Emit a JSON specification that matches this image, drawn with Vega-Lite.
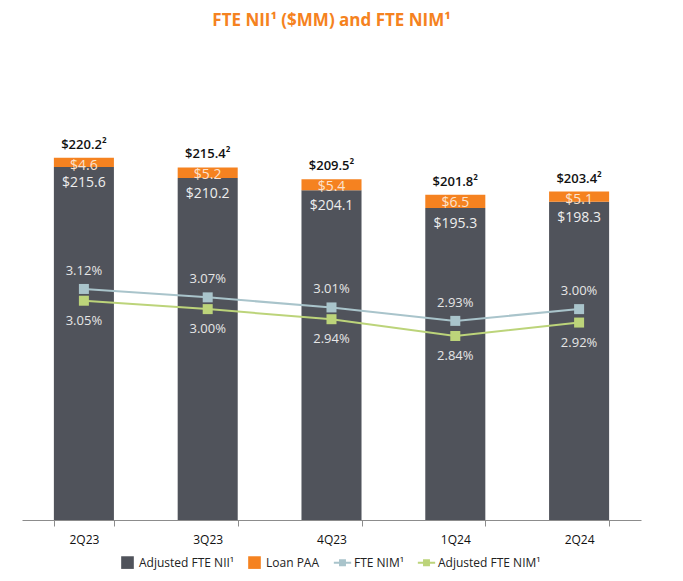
{
  "$schema": "https://vega.github.io/schema/vega-lite/v6.json",
  "width": 619,
  "height": 410,
  "autosize": {"type": "none"},
  "padding": {"left": 22, "right": 42, "top": 110, "bottom": 61},
  "background": "white",
  "title": {"text": "FTE NII¹ ($MM) and FTE NIM¹", "color": "#f58220", "fontSize": 17, "font": "Open Sans", "fontWeight": "bold", "anchor": "middle", "offset": 80},
  "config": {"font": "Open Sans", "view": {"stroke": null}},
  "datasets": {
    "bars": [
      {"q": "2Q23", "series": "Adjusted FTE NII¹", "value": 215.6},
      {"q": "2Q23", "series": "Loan PAA", "value": 4.6},
      {"q": "3Q23", "series": "Adjusted FTE NII¹", "value": 210.2},
      {"q": "3Q23", "series": "Loan PAA", "value": 5.2},
      {"q": "4Q23", "series": "Adjusted FTE NII¹", "value": 204.1},
      {"q": "4Q23", "series": "Loan PAA", "value": 5.4},
      {"q": "1Q24", "series": "Adjusted FTE NII¹", "value": 195.3},
      {"q": "1Q24", "series": "Loan PAA", "value": 6.5},
      {"q": "2Q24", "series": "Adjusted FTE NII¹", "value": 198.3},
      {"q": "2Q24", "series": "Loan PAA", "value": 5.1}
    ],
    "totals": [
      {"q": "2Q23", "total": 220.2},
      {"q": "3Q23", "total": 215.4},
      {"q": "4Q23", "total": 209.5},
      {"q": "1Q24", "total": 201.8},
      {"q": "2Q24", "total": 203.4}
    ],
    "nim": [
      {"q": "2Q23", "series": "FTE NIM¹", "rate": 0.0312},
      {"q": "2Q23", "series": "Adjusted FTE NIM¹", "rate": 0.0305},
      {"q": "3Q23", "series": "FTE NIM¹", "rate": 0.0307},
      {"q": "3Q23", "series": "Adjusted FTE NIM¹", "rate": 0.0300},
      {"q": "4Q23", "series": "FTE NIM¹", "rate": 0.0301},
      {"q": "4Q23", "series": "Adjusted FTE NIM¹", "rate": 0.0294},
      {"q": "1Q24", "series": "FTE NIM¹", "rate": 0.0293},
      {"q": "1Q24", "series": "Adjusted FTE NIM¹", "rate": 0.0284},
      {"q": "2Q24", "series": "FTE NIM¹", "rate": 0.0300},
      {"q": "2Q24", "series": "Adjusted FTE NIM¹", "rate": 0.0292}
    ]
  },
  "resolve": {"scale": {"y": "independent"}},
  "layer": [
    {
      "data": {"name": "bars"},
      "layer": [
        {
          "mark": {"type": "bar", "clip": true},
          "encoding": {
            "x": {
              "field": "q", "type": "nominal", "sort": ["2Q23", "3Q23", "4Q23", "1Q24", "2Q24"],
              "scale": {"paddingInner": 0.515, "paddingOuter": 0.2575},
              "axis": {"title": null, "labelAngle": 0, "domainColor": "#8c8c8c", "tickColor": "#8c8c8c", "tickBand": "extent", "tickSize": 6, "labelFontSize": 12, "labelColor": "#111111", "labelPadding": 8, "labelFont": "Open Sans", "zindex": 1}
            },
            "y": {"field": "value", "type": "quantitative", "stack": "zero", "scale": {"domain": [40, 244], "nice": false, "zero": false}, "axis": null},
            "color": {
              "field": "series", "type": "nominal",
              "scale": {"domain": ["Adjusted FTE NII¹", "Loan PAA", "FTE NIM¹", "Adjusted FTE NIM¹"], "range": ["#50535b", "#f58220", "#a9c4cb", "#bcd47a"]},
              "legend": {
                "orient": "none", "legendX": 99, "legendY": 446, "direction": "horizontal", "title": null,
                "labelFontSize": 12, "labelColor": "#222222", "labelFont": "Open Sans", "columnPadding": 13, "labelOffset": 5,
                "symbolType": "square", "symbolSize": 150,
                "encode": {
                  "symbols": {
                    "update": {
                      "shape": {"signal": "indexof(['FTE NIM¹', 'Adjusted FTE NIM¹'], datum.value) >= 0 ? 'M-1,-0.12H1V0.12H-1Z M-0.4,-0.4H0.4V0.4H-0.4Z' : 'square'"},
                      "size": {"signal": "indexof(['FTE NIM¹', 'Adjusted FTE NIM¹'], datum.value) >= 0 ? 300 : 160"},
                      "fill": {"scale": "color", "field": "value"},
                      "strokeWidth": {"value": 0},
                      "opacity": {"value": 1}
                    }
                  }
                }
              }
            },
            "order": {"field": "series", "sort": "ascending"}
          }
        },
        {
          "transform": [{"filter": "datum.series === 'Adjusted FTE NII¹'"}],
          "mark": {"type": "text", "baseline": "alphabetic", "dy": 20, "fontSize": 14, "color": "#eeeeee", "font": "Open Sans"},
          "encoding": {
            "x": {"field": "q", "type": "nominal", "sort": ["2Q23", "3Q23", "4Q23", "1Q24", "2Q24"]},
            "y": {"field": "value", "type": "quantitative", "axis": null},
            "text": {"field": "value", "type": "quantitative", "format": "$.1f"}
          }
        },
        {
          "mark": {"type": "text", "baseline": "alphabetic", "dy": 12, "fontSize": 14, "color": "#fbe3cf", "font": "Open Sans"},
          "encoding": {
            "x": {"field": "q", "type": "nominal", "sort": ["2Q23", "3Q23", "4Q23", "1Q24", "2Q24"]},
            "y": {"field": "value", "type": "quantitative", "stack": "zero", "axis": null},
            "detail": {"field": "series"},
            "order": {"field": "series", "sort": "ascending"},
            "text": {"condition": {"test": "datum.series === 'Loan PAA'", "field": "value", "type": "quantitative", "format": "$.1f"}, "value": ""}
          }
        },
        {
          "data": {"name": "totals"},
          "transform": [{"calculate": "'$' + format(datum.total, '.1f') + '²'", "as": "label"}],
          "mark": {"type": "text", "baseline": "alphabetic", "dy": -9, "fontSize": 13, "color": "#111111", "fontWeight": 600, "font": "Open Sans"},
          "encoding": {
            "x": {"field": "q", "type": "nominal", "sort": ["2Q23", "3Q23", "4Q23", "1Q24", "2Q24"]},
            "y": {"field": "total", "type": "quantitative", "axis": null},
            "text": {"field": "label", "type": "nominal"}
          }
        }
      ]
    },
    {
      "data": {"name": "nim"},
      "layer": [
        {
          "mark": {"type": "line", "strokeWidth": 2, "point": {"shape": "square", "size": 100, "filled": true, "opacity": 1}},
          "encoding": {
            "x": {"field": "q", "type": "nominal", "sort": ["2Q23", "3Q23", "4Q23", "1Q24", "2Q24"]},
            "y": {"field": "rate", "type": "quantitative", "scale": {"domain": [0.01745, 0.04185], "nice": false, "zero": false}, "axis": null},
            "color": {"field": "series", "type": "nominal"}
          }
        },
        {
          "transform": [{"filter": "datum.series === 'FTE NIM¹'"}],
          "mark": {"type": "text", "baseline": "middle", "dy": -18, "fontSize": 13, "color": "#e6e6e6", "font": "Open Sans"},
          "encoding": {
            "x": {"field": "q", "type": "nominal", "sort": ["2Q23", "3Q23", "4Q23", "1Q24", "2Q24"]},
            "y": {"field": "rate", "type": "quantitative", "axis": null},
            "text": {"field": "rate", "type": "quantitative", "format": ".2%"}
          }
        },
        {
          "transform": [{"filter": "datum.series === 'Adjusted FTE NIM¹'"}],
          "mark": {"type": "text", "baseline": "middle", "dy": 20, "fontSize": 13, "color": "#e6e6e6", "font": "Open Sans"},
          "encoding": {
            "x": {"field": "q", "type": "nominal", "sort": ["2Q23", "3Q23", "4Q23", "1Q24", "2Q24"]},
            "y": {"field": "rate", "type": "quantitative", "axis": null},
            "text": {"field": "rate", "type": "quantitative", "format": ".2%"}
          }
        }
      ]
    }
  ]
}
